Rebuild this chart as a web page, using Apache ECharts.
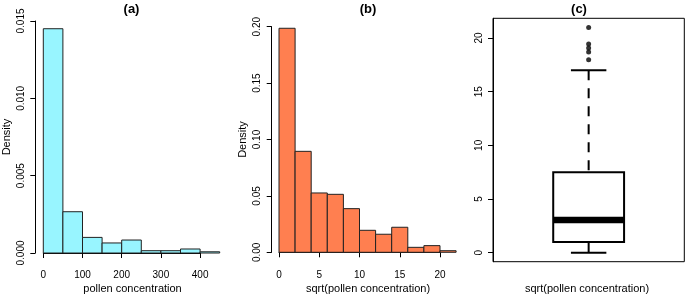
<!DOCTYPE html>
<html>
<head>
<meta charset="utf-8">
<script src="https://cdn.jsdelivr.net/npm/echarts@6/dist/echarts.min.js"></script>
<style>
  html, body { margin: 0; padding: 0; background: #fff; }
  #chart { width: 685px; height: 296px; }
</style>
</head>
<body>
<div id="chart"></div>
<script>
// (a) histogram of pollen concentration
var aBreaks = [0, 50, 100, 150, 200, 250, 300, 350, 400, 450];
var aDensity = [0.0145, 0.00267, 0.00101, 0.00065, 0.00084, 0.00015, 0.00015, 0.00026, 0.00008];

// (b) histogram of sqrt(pollen concentration)
var bBreaks = [0, 2, 4, 6, 8, 10, 12, 14, 16, 18, 20, 22];
var bDensity = [0.1986, 0.0895, 0.0526, 0.0514, 0.0387, 0.0195, 0.016, 0.0222, 0.0044, 0.0059, 0.0014];

// (c) boxplot of sqrt(pollen concentration): min, Q1, median, Q3, upper whisker
var boxStats = [0, 1.0, 3.05, 7.5, 17.0];
var outliers = [17.98, 18.69, 19.07, 19.44, 20.99];
var cTicks = [0, 5, 10, 15, 20];

var FONT = '"Liberation Sans", Arial, sans-serif';

function histData(breaks, dens) {
  return dens.map(function (d, i) { return [breaks[i], breaks[i + 1], d]; });
}

function histItem(color) {
  return function (params, api) {
    var p0 = api.coord([api.value(0), api.value(2)]);
    var p1 = api.coord([api.value(1), 0]);
    return {
      type: 'rect',
      shape: { x: p0[0], y: p0[1], width: p1[0] - p0[0], height: p1[1] - p0[1] },
      style: { fill: color, stroke: '#222', lineWidth: 1 }
    };
  };
}

// R style box: dashed whiskers drawn from the ends inwards, thick median
function boxItem(params, api) {
  var x = api.value(0);
  var lo = api.value(1), q1 = api.value(2), med = api.value(3), q3 = api.value(4), hi = api.value(5);
  function seg(a, b, w, dash) {
    return {
      type: 'line',
      shape: { x1: a[0], y1: a[1], x2: b[0], y2: b[1] },
      style: { stroke: '#000', lineWidth: w, lineDash: dash || null, lineCap: 'butt' }
    };
  }
  var tl = api.coord([x - 0.2, q3]);
  var br = api.coord([x + 0.2, q1]);
  return {
    type: 'group',
    children: [
      seg(api.coord([x, lo]), api.coord([x, q1]), 2, [10, 8]),
      seg(api.coord([x, hi]), api.coord([x, q3]), 2, [10, 8]),
      seg(api.coord([x - 0.1, lo]), api.coord([x + 0.1, lo]), 2),
      seg(api.coord([x - 0.1, hi]), api.coord([x + 0.1, hi]), 2),
      {
        type: 'rect',
        shape: { x: tl[0], y: tl[1], width: br[0] - tl[0], height: br[1] - tl[1] },
        style: { fill: '#fff', stroke: '#000', lineWidth: 2 }
      },
      seg(api.coord([x - 0.2, med]), api.coord([x + 0.2, med]), 6.5)
    ]
  };
}

var axisLineStyle = { show: true, lineStyle: { color: '#000', width: 1 } };
var tickStyle = { show: true, length: 5, lineStyle: { color: '#000', width: 1 } };
var labelStyle = { color: '#000', fontSize: 10, fontFamily: FONT };
var nameStyle = { color: '#000', fontSize: 11, fontFamily: FONT };

function textEl(txt, x, y, bold, size) {
  return {
    type: 'text', x: x, y: y, silent: true,
    style: {
      text: txt, fill: '#000', align: 'center', verticalAlign: 'middle',
      font: (bold ? 'bold ' : '') + size + 'px ' + FONT
    }
  };
}

function shownX(grid, max, step) {
  return {
    gridIndex: grid, type: 'value', min: 0, max: max, interval: step,
    axisLine: axisLineStyle, axisTick: tickStyle, splitLine: { show: false },
    axisLabel: Object.assign({ margin: 8 }, labelStyle)
  };
}
function shownY(grid, max, step, digits) {
  return {
    gridIndex: grid, type: 'value', min: 0, max: max, interval: step,
    axisLine: axisLineStyle, axisTick: tickStyle, splitLine: { show: false },
    axisLabel: Object.assign({ rotate: 90, margin: 9, formatter: function (v) { return v.toFixed(digits); } }, labelStyle),
    name: 'Density', nameLocation: 'middle', nameRotate: 90, nameGap: 23, nameTextStyle: nameStyle
  };
}

var chart = echarts.init(document.getElementById('chart'));
chart.setOption({
  animation: false,
  backgroundColor: '#fff',
  grid: [
    // (a) data + x axis, then y axis alone (R keeps axes off the plot)
    { left: 43.3, top: 21, width: 156.8, height: 241.3 },
    { left: 35.3, top: 21, width: 10, height: 232 },
    // (b)
    { left: 279, top: 26.7, width: 161, height: 235.6 },
    { left: 271.7, top: 26.7, width: 10, height: 225.6 },
    // (c)
    { left: 493, top: 18.3, width: 191.3, height: 243.4, show: true, borderColor: '#000', borderWidth: 1 }
  ],
  xAxis: [
    shownX(0, 400, 100),
    { gridIndex: 1, type: 'value', show: false },
    shownX(2, 20, 5),
    { gridIndex: 3, type: 'value', show: false },
    { gridIndex: 4, type: 'value', min: 0.46, max: 1.54, show: false }
  ],
  yAxis: [
    { gridIndex: 0, type: 'value', min: -0.0006, max: 0.015, show: false },
    shownY(1, 0.015, 0.005, 3),
    { gridIndex: 2, type: 'value', min: -0.00887, max: 0.2, show: false },
    shownY(3, 0.2, 0.05, 2),
    {
      gridIndex: 4, type: 'value', min: -0.84, max: 21.84,
      axisLine: axisLineStyle, splitLine: { show: false },
      axisTick: Object.assign({ customValues: cTicks }, tickStyle),
      axisLabel: Object.assign({ rotate: 90, margin: 9, customValues: cTicks }, labelStyle)
    }
  ],
  graphic: [
    textEl('(a)', 131.5, 9.5, true, 13),
    textEl('(b)', 368, 9.5, true, 13),
    textEl('(c)', 579, 9.5, true, 13),
    textEl('pollen concentration', 132.5, 289, false, 11),
    textEl('sqrt(pollen concentration)', 368, 289, false, 11),
    textEl('sqrt(pollen concentration)', 587, 289, false, 11)
  ],
  series: [
    {
      type: 'custom', xAxisIndex: 0, yAxisIndex: 0, clip: false,
      renderItem: histItem('#98F5FF'), encode: { x: [0, 1], y: 2 },
      data: histData(aBreaks, aDensity)
    },
    {
      type: 'custom', xAxisIndex: 2, yAxisIndex: 2, clip: false,
      renderItem: histItem('#FF7F50'), encode: { x: [0, 1], y: 2 },
      data: histData(bBreaks, bDensity)
    },
    {
      type: 'custom', xAxisIndex: 4, yAxisIndex: 4, clip: false,
      renderItem: boxItem, encode: { x: 0, y: [1, 2, 3, 4, 5] },
      data: [[1].concat(boxStats)]
    },
    {
      type: 'scatter', xAxisIndex: 4, yAxisIndex: 4,
      symbol: 'circle', symbolSize: 5, itemStyle: { color: '#000' },
      data: outliers.map(function (v) { return [1, v]; })
    }
  ]
});
</script>
</body>
</html>
